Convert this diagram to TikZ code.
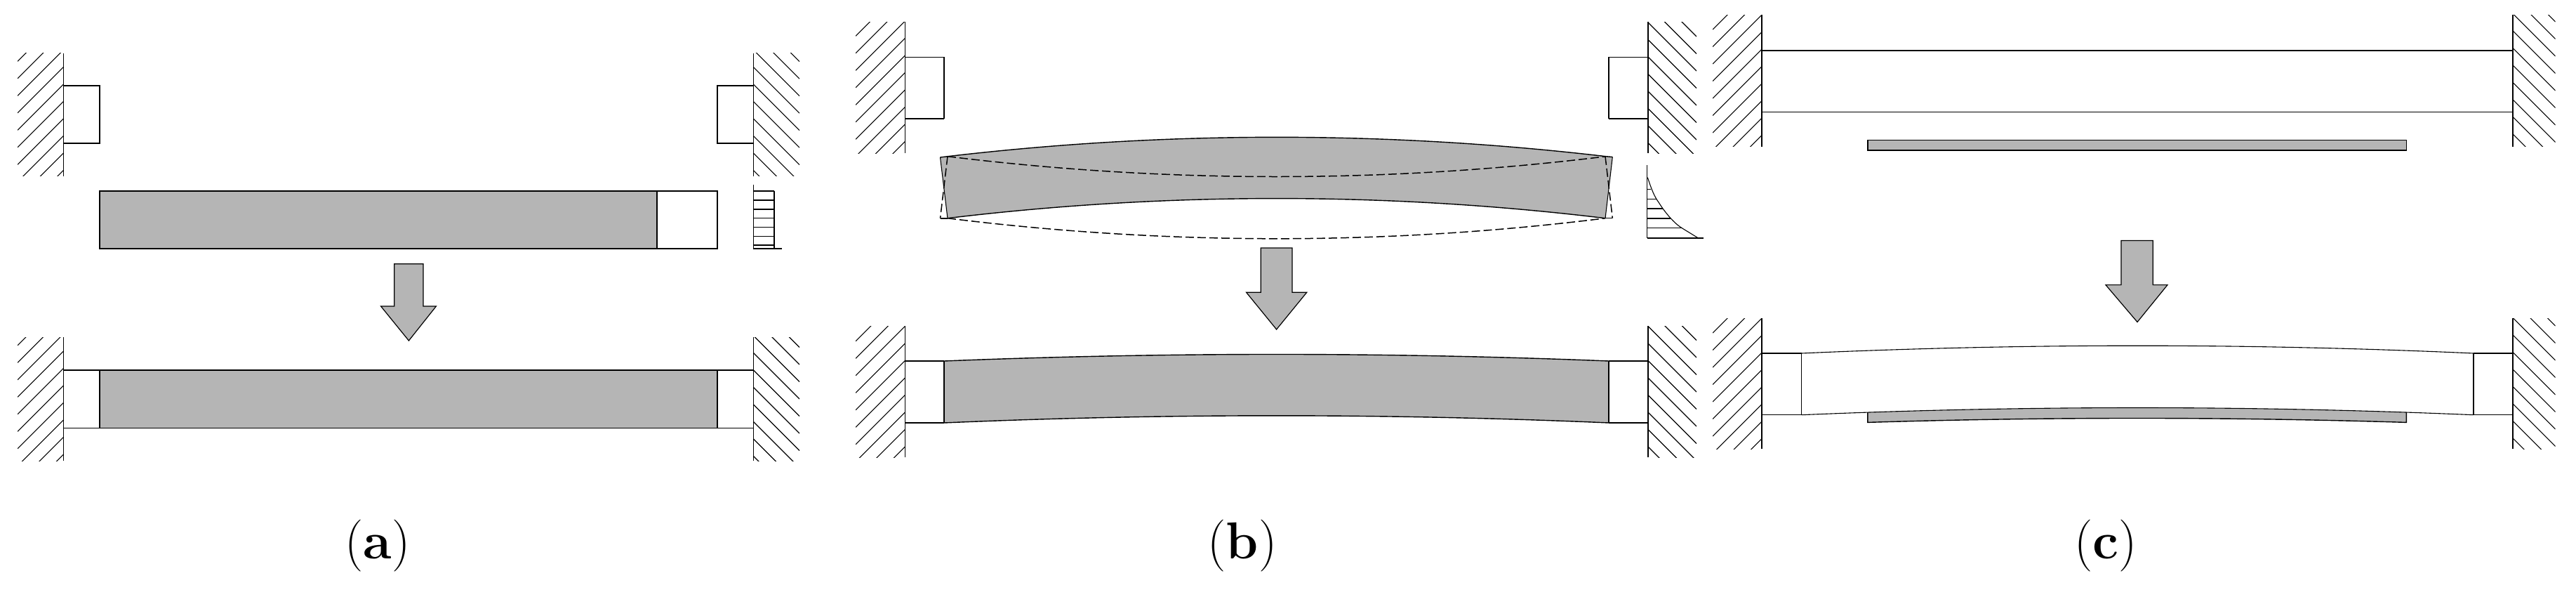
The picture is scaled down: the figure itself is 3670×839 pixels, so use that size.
\documentclass[tikz,border=0pt]{standalone}
\usepackage[]{amsmath,amssymb}
\usepackage{tikz}
\definecolor{beamgrey}{HTML}{B5B5B5}

\newcommand{\hatchwall}[5]{
  \begin{scope}
    \clip (#1,#3) rectangle (#2,#4);
    \foreach \k in {-3,...,8}
      \draw[hatchline] (#1,{#5+24.5*\k}) -- (#2,{#5+24.5*\k+abs(#2-#1)});
  \end{scope}
  \draw[thinline] (#1,#3) -- (#1,#4);
}

\begin{document}
\begin{tikzpicture}[x=1pt,y=-1pt,
  thinline/.style={line width=1.1pt},
  midline/.style={line width=1.4pt},
  thickline/.style={line width=1.7pt},
  hatchline/.style={line width=1.1pt},
  dashline/.style={line width=1.5pt,dash pattern=on 12pt off 5pt},
  greyfill/.style={fill=beamgrey},
  downarrow/.style={fill=beamgrey,draw=black,line width=1.2pt,line join=miter},
  caption/.style={inner sep=0pt,font=\fontsize{74}{80}\selectfont}]
\useasboundingbox (0,0) rectangle (3670,839);

\hatchwall{90.3}{25}{75.5}{250.7}{95.5}
\hatchwall{1073.5}{1139}{75.5}{250.7}{95.7}
\draw[thickline] (90.3,121.7) -- (142,121.7) -- (142,204) -- (90.3,204);
\draw[thickline] (1073.5,121.7) -- (1022,121.7) -- (1022,204) -- (1073.5,204);
\path[greyfill] (142,272) rectangle (936,354);
\draw[thinline] (936,272) -- (936,354);
\draw[thickline] (142,354) -- (142,272) -- (1022,272) -- (1022,354) -- cycle;
\draw[thinline] (1073.3,263) -- (1073.3,354);
\foreach \y/\w in {271.7/1.7,285/1.7,298/1.7,310.3/1.1,323.3/1.1,336.3/1.1,349/1.7}
  \draw[line width=\w pt] (1073.3,\y) -- (1103,\y);
\draw[thickline] (1103,271.7) -- (1103,354);
\draw[thickline] (1073.3,354) -- (1114,354);
\draw[downarrow] (561.7,375.7) -- (603,375.7) -- (603,436) -- (621.4,436) -- (582.4,485) -- (542.6,436) -- (561.7,436) -- cycle;
\hatchwall{90.3}{25}{480}{656.3}{500}
\hatchwall{1073.5}{1139}{480}{656.3}{502.5}
\path[greyfill] (142,527) rectangle (1022,609.4);
\draw[thinline] (90.3,527) -- (1073.5,527);
\draw[thinline] (90.3,609.4) -- (1073.5,609.4);
\draw[thickline] (142,527) -- (142,609.4);
\draw[thinline] (1022,527) -- (1022,609.4);
\node[caption] (labela) at (538,777) {(\textbf{a})};

\hatchwall{1289.3}{1219}{31}{218.3}{54.5}
\hatchwall{2348}{2417}{31}{218.3}{56.5}
\draw[thinline] (1289.3,81.3) -- (1345,81.3) -- (1345,169);
\draw[thickline] (1345,169) -- (1289.3,169);
\draw[thinline] (2348,81.3) -- (2292,81.3) -- (2292,169);
\draw[thickline] (2292,169) -- (2348,169);
\path[greyfill] (1339.5,224) -- (1350,222.7) .. controls (1662.7,186.2) and (1975.3,186.2) .. (2288,222.7) -- (2297.3,223.5) -- (2287,310.7) .. controls (1975.3,273.2) and (1662.7,273.2) .. (1350,310.7) -- cycle;
\draw[midline] (1339.5,224) -- (1350,222.7) .. controls (1662.7,186.2) and (1975.3,186.2) .. (2288,222.7) -- (2297.3,223.5);
\draw[midline] (1350,310.7) .. controls (1662.7,273.2) and (1975.3,273.2) .. (2287,310.7);
\draw[thinline] (1339.5,224) -- (1350,310.7);
\draw[thinline] (2297.3,223.5) -- (2287,310.7);
\draw[dashline] (1350,222.7) -- (1339.5,311);
\draw[dashline] (2287,223) -- (2297.3,310.7);
\draw[dashline] (1350,222.7) .. controls (1662.7,261.1) and (1975.3,261.1) .. (2288,222.7);
\draw[dashline] (1350,310.7) .. controls (1662.7,349.5) and (1975.3,349.5) .. (2287,310.7);
\draw[thinline] (1339.5,311) -- (1350,311);
\draw[thinline] (2287,310.9) -- (2297.3,310.9);
\draw[thinline] (2346.7,235) -- (2346.7,339.3);
\foreach \y/\e/\w in {269.3/2351.7/1.1,283.3/2360/1.1,297/2369.3/1.7,311/2380/1.7,324.3/2395.7/1.1}
  \draw[line width=\w pt] (2346.7,\y) -- (\e,\y);
\draw[thinline] (2347.3,252.7) .. controls (2353,270) and (2357,280) .. (2363,288) .. controls (2375,307) and (2388,320) .. (2396.7,325) -- (2420,339.3);
\draw[thickline] (2346.7,339.3) -- (2426.7,339.3);
\draw[downarrow] (1796.3,353) -- (1841,353) -- (1841,416.3) -- (1861.7,416.3) -- (1818.6,469) -- (1775.6,416.3) -- (1796.3,416.3) -- cycle;
\hatchwall{1289.3}{1219}{464}{651}{489}
\hatchwall{2348}{2417}{464}{651}{489}
\path[greyfill] (1345,514) .. controls (1660.7,501.3) and (1976.3,501.3) .. (2292,514) -- (2292,602) .. controls (1976.3,588.4) and (1660.7,588.4) .. (1345,602) -- cycle;
\draw[midline] (1345,514) .. controls (1660.7,501.3) and (1976.3,501.3) .. (2292,514);
\draw[midline] (1345,602) .. controls (1660.7,588.4) and (1976.3,588.4) .. (2292,602);
\draw[thinline] (1345,514) -- (1345,602);
\draw[thinline] (2292,514) -- (2292,602);
\draw[thinline] (1289.3,514) -- (1345,514);
\draw[thinline] (2292,514) -- (2348,514);
\draw[thickline] (1289.3,602) -- (1345,602);
\draw[thickline] (2292,602) -- (2348,602);
\node[caption] (labelb) at (1770,777) {(\textbf{b})};

\hatchwall{2510}{2440}{21.4}{208.7}{45.5}
\hatchwall{3580}{3640.5}{21.4}{208.7}{44}
\draw[thickline] (2510,71.7) -- (3580,71.7);
\draw[thinline] (2510,159.4) -- (3580,159.4);
\draw[greyfill,draw=black,thickline] (2660.8,199.6) rectangle (3428.4,214);
\draw[downarrow] (3021.9,342.4) -- (3067.3,342.4) -- (3067.3,405.6) -- (3088,405.6) -- (3045,458.5) -- (2999.9,405.6) -- (3021.9,405.6) -- cycle;
\hatchwall{2510}{2440}{453}{639.4}{477.5}
\hatchwall{3580}{3640.5}{453}{639.4}{477}
\path[greyfill] (2660.8,587.1) .. controls (2916.7,578.3) and (3172.5,578.3) .. (3428.4,587.1) -- (3428.4,601.4) .. controls (3172.5,593.5) and (2916.7,593.5) .. (2660.8,601.4) -- cycle;
\draw[midline] (2660.8,587.1) -- (2660.8,601.4) .. controls (2916.7,593.5) and (3172.5,593.5) .. (3428.4,601.4) -- (3428.4,587.1);
\draw[thickline] (2510,503) -- (2566.7,503);
\draw[thickline] (3524,503) -- (3580,503);
\draw[thinline] (2566.7,503) .. controls (2885.8,488.6) and (3204.9,488.6) .. (3524,503);
\draw[thinline] (2566.7,590.7) .. controls (2885.8,577.1) and (3204.9,577.1) .. (3524,590.7);
\draw[thinline] (2510,590.7) -- (2566.7,590.7);
\draw[thinline] (3524,590.7) -- (3580,590.7);
\draw[thinline] (2566.7,503) -- (2566.7,590.7);
\draw[thinline] (3524,503) -- (3524,590.7);
\node[caption] (labelc) at (3000,777) {(\textbf{c})};
\end{tikzpicture}
\end{document}
